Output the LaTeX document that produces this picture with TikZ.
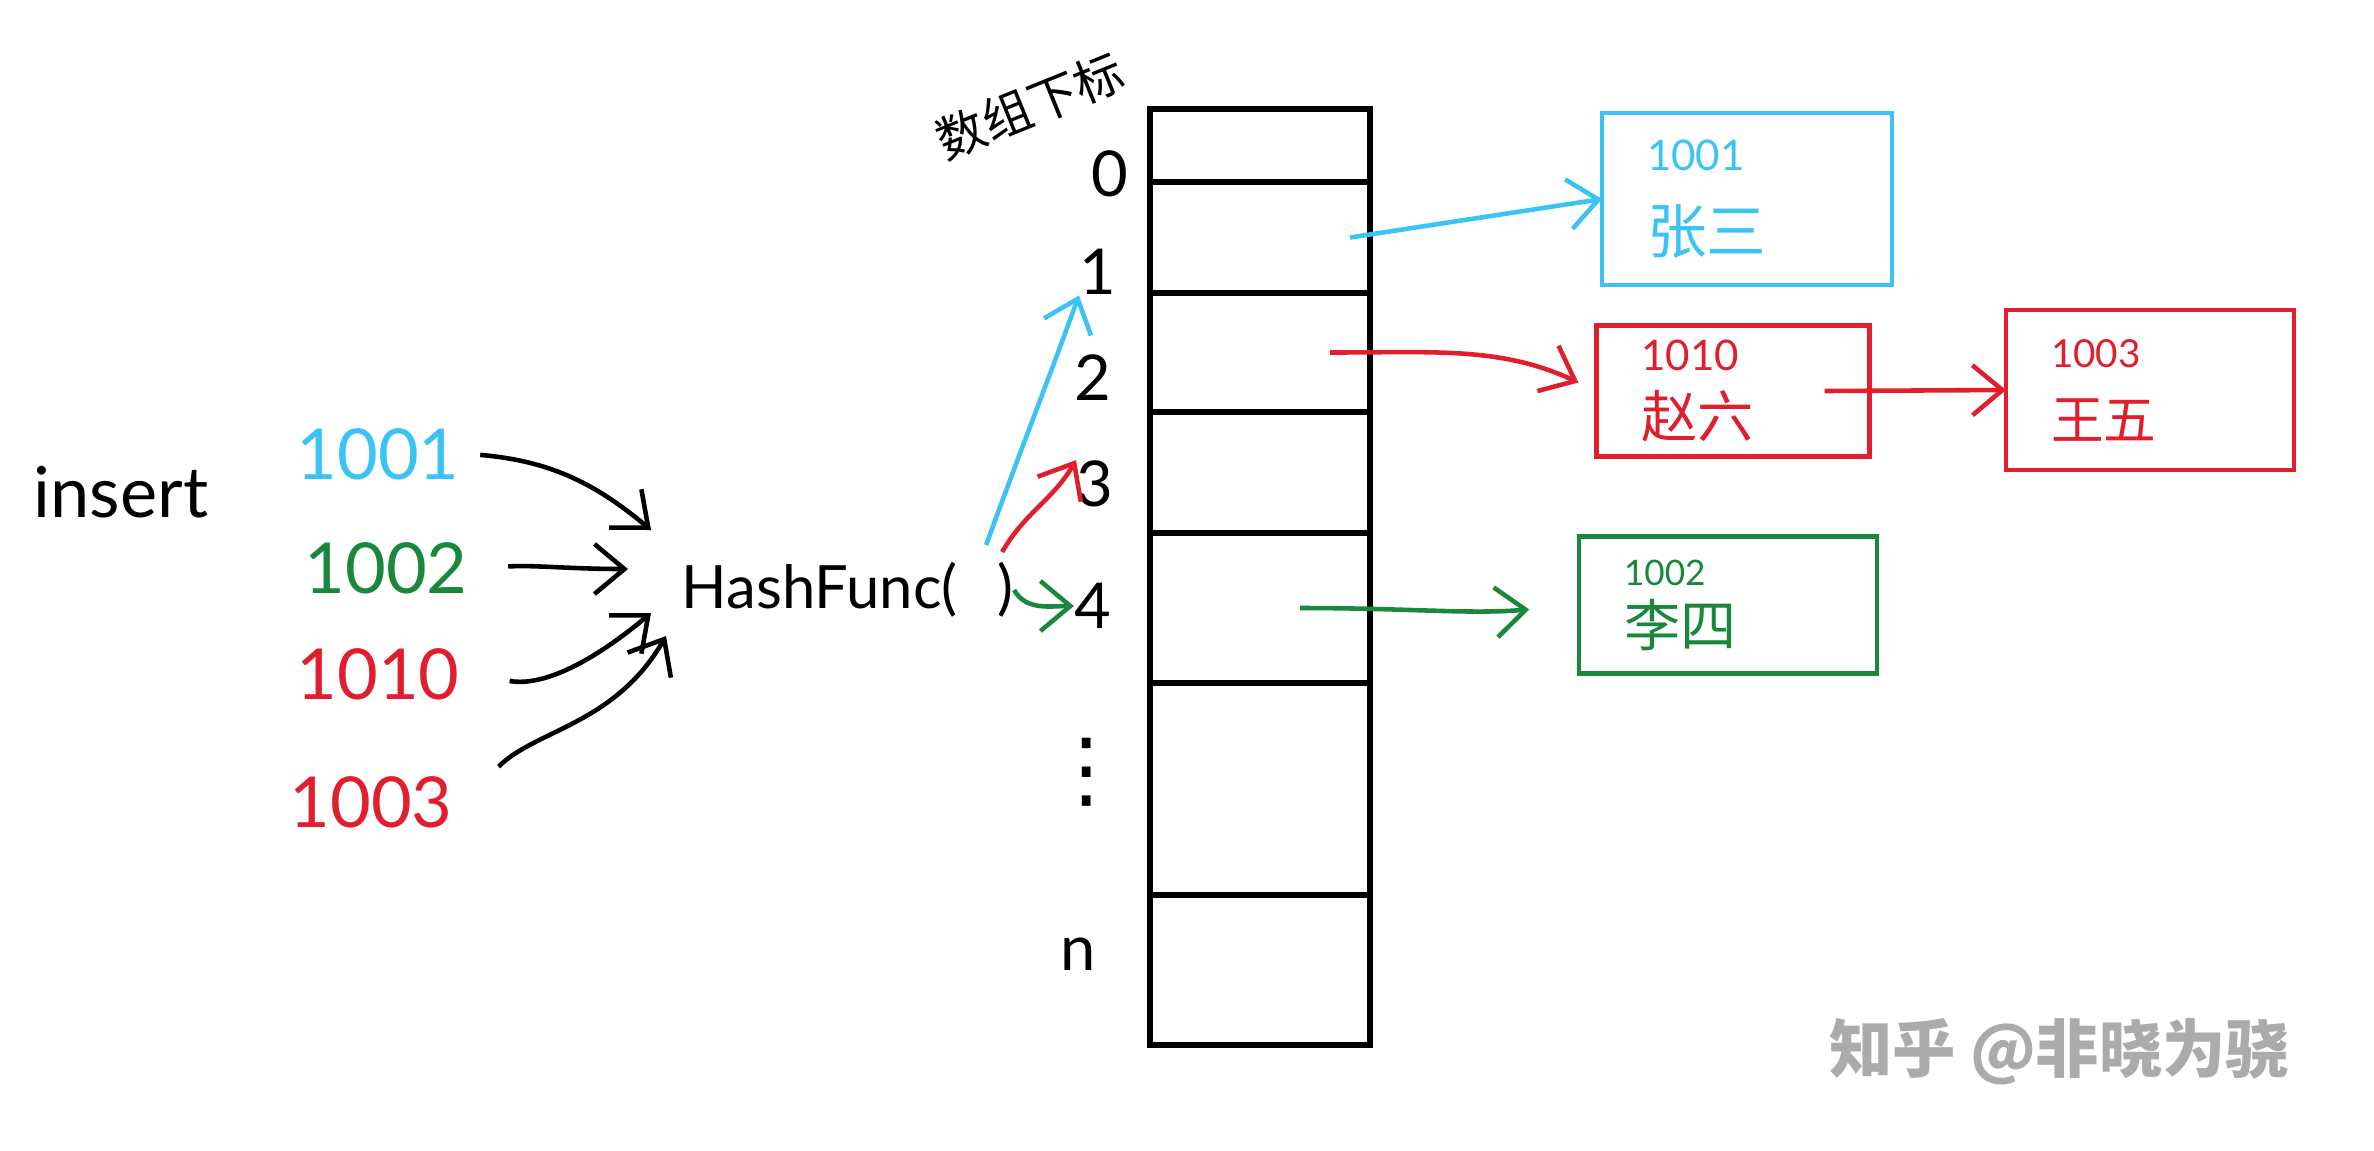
\documentclass[tikz,border=0pt]{standalone}
\usepackage{fontspec}
\setmainfont{Lato}
\newfontfamily\cjk{Noto Sans CJK SC}
\newfontfamily\sym{DejaVu Sans}
\usetikzlibrary{arrows.meta}
\definecolor{keycyan}{RGB}{60,195,245}
\definecolor{keyred}{RGB}{225,30,45}
\definecolor{keygreen}{RGB}{25,135,60}

\begin{document}
\begin{tikzpicture}[x=0.1mm,y=-0.1mm,
	cell/.style={draw,rectangle,line width=1.5pt,minimum width=22mm,inner sep=0,outer sep=0},
	idx/.style={font=\fontsize{18}{20}\selectfont,inner sep=0},
	keynum/.style={font=\fontsize{20}{22}\selectfont,inner sep=1mm},
	bucket/.style={draw,rectangle,line width=1.3pt,align=left,inner xsep=4.5mm,inner ysep=0,outer sep=0},
	feed/.style={line width=1.3pt,-{Straight Barb[length=3mm,width=5mm]}},
	link/.style={line width=1.3pt,-{Straight Barb[length=3mm,width=5mm]}}]
	\useasboundingbox (0,0) rectangle (2374,1150);
	% left side: keys and hash function
	\node[font=\fontsize{20}{22}\selectfont] (insert) at (121,492) {insert};
	\node[keynum,text=keycyan] (k1001) at (378,454) {1001};
	\node[keynum,text=keygreen] (k1002) at (386,568) {1002};
	\node[keynum,text=keyred] (k1010) at (378,674) {1010};
	\node[keynum,text=keyred] (k1003) at (371,802) {1003};
	\node[font=\fontsize{17}{20}\selectfont,inner sep=0,anchor=west] (hash) at (681,590) {HashFunc(\hspace{4mm})};
	\draw[feed,shorten <=1mm] (k1001.east) to[out=-5,in=140] ([shift={(-30,-60)}]hash.west);
	\draw[feed,shorten <=3mm] (k1002.east) to[out=3,in=180] ([shift={(-53,-21)}]hash.west);
	\draw[feed,shorten <=4mm] (k1010.east) to[out=-10,in=220] ([shift={(-30,23)}]hash.west);
	\draw[feed,shorten <=5mm] (k1003.east) to[out=45,in=240] ([shift={(-15,46)}]hash.west);
	% array
	\node[font=\cjk\fontsize{14}{16}\selectfont,rotate=22] (title) at (1030,106) {数组下标};
	\node[cell,minimum height=7.3mm] (s0) at (1260,145.5) {};
	\node[cell,minimum height=11.1mm] (s1) at (1260,237.5) {};
	\node[cell,minimum height=11.9mm] (s2) at (1260,352.5) {};
	\node[cell,minimum height=12.1mm] (s3) at (1260,472.5) {};
	\node[cell,minimum height=15mm] (s4) at (1260,608) {};
	\node[cell,minimum height=21.2mm] (sdots) at (1260,789) {};
	\node[cell,minimum height=15mm] (sn) at (1260,970) {};
	\node[idx] (i0) at (1110,174) {0};
	\node[idx] (i1) at (1098,272) {1};
	\node[idx] (i2) at (1093,378) {2};
	\node[idx] (i3) at (1095,484) {3};
	\node[idx] (i4) at (1093,606) {4};
	\node[idx,font=\sym\fontsize{24}{26}\selectfont] (idots) at (1087,772) {⋮};
	\node[idx] (in) at (1078,954) {n};
	\draw[link,keycyan] ([shift={(-28,-45)}]hash.east) to[out=70,in=250] (i1.south west);
	\draw[link,keyred] ([shift={(-12,-38)}]hash.east) to[out=60,in=240] (i3.north west);
	\draw[link,keygreen] (hash.east) to[out=-60,in=180] (i4.west);
	% buckets
	\node[bucket,draw=keycyan,text=keycyan,text width=20mm,minimum height=17.2mm] (b1001) at (1747,199)
		{{\fontsize{12}{14}\selectfont 1001}\\[3mm]{\cjk\fontsize{17}{20}\selectfont 张三}};
	\node[bucket,draw=keyred,text=keyred,text width=18.3mm,minimum height=13.1mm] (b1010) at (1733,391)
		{{\fontsize{12}{14}\selectfont 1010}\\[1.5mm]{\cjk\fontsize{16}{18}\selectfont 赵六}};
	\node[bucket,draw=keyred,text=keyred,text width=19.8mm,minimum height=16mm] (b1003) at (2150,390)
		{{\fontsize{11}{13}\selectfont 1003}\\[3mm]{\cjk\fontsize{15}{18}\selectfont 王五}};
	\node[bucket,draw=keygreen,text=keygreen,text width=20.8mm,minimum height=13.7mm] (b1002) at (1728,605)
		{{\fontsize{10}{12}\selectfont 1002}\\[1mm]{\cjk\fontsize{16}{18}\selectfont 李四}};
	\draw[link,keycyan] ([xshift=-2mm]s1.east) -- (b1001.west);
	\draw[link,keyred,shorten >=2mm] ([xshift=-4mm]s2.east) to[out=0,in=155] (b1010.west);
	\draw[link,keyred] ([xshift=-4.5mm]b1010.east) -- (b1003.west);
	\draw[link,keygreen,shorten >=5mm] ([xshift=-7mm]s4.east) to[out=0,in=185] (b1002.west);
	% watermark
	\node[font=\cjk\bfseries\fontsize{18}{20}\selectfont,text=black!33] (mark) at (2059,1052) {知乎 @非晓为骁};
\end{tikzpicture}
\end{document}
